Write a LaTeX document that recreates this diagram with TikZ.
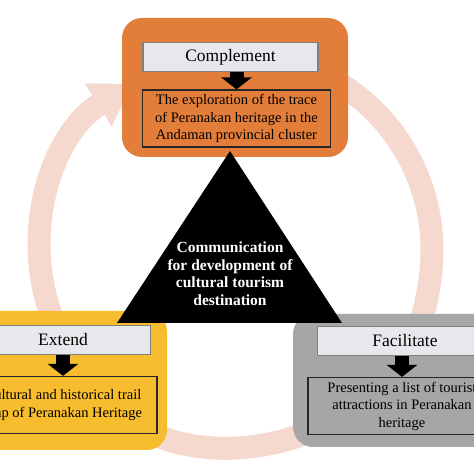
\documentclass[tikz,border=0pt]{standalone}
\usepackage{fontspec}
\setmainfont{Liberation Serif}
\usepackage{xcolor}
\usepackage{tikz}
\usetikzlibrary{arrows.meta, calc}

\definecolor{ringpink}{HTML}{F5D9CF}
\definecolor{boxorange}{HTML}{E27E3A}
\definecolor{boxyellow}{HTML}{F8BD2E}
\definecolor{boxgray}{HTML}{A6A6A6}
\definecolor{titlefill}{HTML}{E8E8EC}

\begin{document}
\begin{tikzpicture}[
    x=1pt, y=1pt,
    panel/.style={rectangle, rounded corners=20pt, minimum width=226pt, minimum height=139pt, inner sep=0pt},
    titlebox/.style={rectangle, draw=black!50, fill=titlefill, line width=1.2pt, minimum width=175pt, minimum height=29pt, inner sep=0pt, font=\fontsize{17.5}{20}\selectfont},
    descbox/.style={rectangle, draw=black!85, line width=1.2pt, minimum width=188pt, minimum height=57pt, inner sep=0pt, align=center, font=\fontsize{14.5}{17.5}\selectfont},
    hubtext/.style={align=center, text=white, font=\fontsize{15.5}{17.5}\selectfont\bfseries},
    ringarc/.style={line width=23pt, ringpink, -{Triangle[width=48pt, length=40pt]}},
    downarrow/.style={line width=14pt, black, -{Triangle[width=30pt, length=12pt]}},
]
\useasboundingbox (0,0) rectangle (474,474);
\clip (0,0) rectangle (474,474);

% === CYCLE RING ===
\coordinate (ringc) at (236,224);
\draw[ringarc] ($(ringc)+(205:196)$) arc[start angle=205, end angle=122, radius=196];
\draw[ringarc] ($(ringc)+(60:196)$) arc[start angle=60, end angle=-40, radius=196];
\draw[ringarc] ($(ringc)+(-60:196)$) arc[start angle=-60, end angle=-130, radius=196];

% === PANELS ===
\node[panel, fill=boxorange] (cpanel) at (235,386.5) {};
\node[panel, fill=boxyellow] (epanel) at (54,93.5) {};
\node[panel, fill=boxgray, minimum height=133pt] (fpanel) at (406,93.5) {};

% --- Complement (top) ---
\node[titlebox] (ctitle) at (230.5,417) {Complement};
\node[descbox] (cdesc) at (236.5,355.5) {The exploration of the trace\\of Peranakan heritage in the\\Andaman provincial cluster};
\draw[downarrow] (ctitle.south -| cdesc.north) -- (cdesc.north);

% --- Extend (bottom left) ---
\node[titlebox] (etitle) at (63,134) {Extend};
\node[descbox] (edesc) at (63,69) {Cultural and historical trail\\map of Peranakan Heritage};
\draw[downarrow] (etitle.south -| edesc.north) -- (edesc.north);

% --- Facilitate (bottom right) ---
\node[titlebox] (ftitle) at (405,133) {Facilitate};
\node[descbox] (fdesc) at (402,68) {Presenting a list of tourist\\attractions in Peranakan\\heritage};
\draw[downarrow] (ftitle.south -| fdesc.north) -- (fdesc.north);

% === CENTRE TRIANGLE ===
\coordinate (apex) at (230,323);
\coordinate (baseL) at (117,151);
\coordinate (baseR) at (342,151);
\fill[black] (apex) -- (baseL) -- (baseR) -- cycle;
\node[hubtext] (hublabel) at (230,200.5) {Communication\\for development of\\cultural tourism\\destination};

\end{tikzpicture}
\end{document}
